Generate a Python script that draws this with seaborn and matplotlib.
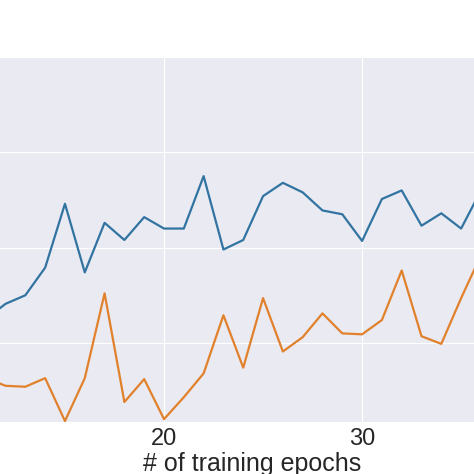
import matplotlib
matplotlib.use("Agg")
import matplotlib.pyplot as plt
import pandas as pd
import seaborn as sns

# values (only epochs 11-36 are visible)
epochs = list(range(11, 37))
series_a = [0.725, 0.741, 0.750, 0.779, 0.846, 0.774, 0.826, 0.808, 0.832, 0.820,
            0.820, 0.875, 0.798, 0.808, 0.854, 0.868, 0.858, 0.839, 0.835, 0.807,
            0.851, 0.860, 0.823, 0.836, 0.820, 0.860]
series_b = [0.663, 0.655, 0.654, 0.663, 0.618, 0.663, 0.752, 0.638, 0.662, 0.620,
            0.643, 0.668, 0.729, 0.674, 0.747, 0.691, 0.706, 0.731, 0.710, 0.709,
            0.724, 0.776, 0.707, 0.699, 0.747, 0.792]
x_ticks = [20, 30]
y_ticks = [0.7, 0.8, 0.9, 1.0]

df = pd.DataFrame({"epoch": epochs * 2,
                   "value": series_a + series_b,
                   "series": ["a"] * len(epochs) + ["b"] * len(epochs)})

sns.set_style("darkgrid")
plt.rcParams['font.family'] = ['Liberation Sans', 'DejaVu Sans']

fig = plt.figure(figsize=(4.74, 4.74), dpi=100)
# the reference is a crop of a wider chart: axes run past both edges
ax = fig.add_axes([0.0, 0.1097, 1.0, 0.770])

sns.lineplot(data=df, x="epoch", y="value", hue="series",
             palette=["#3274A1", "#E1812C"], linewidth=1.6, legend=False, ax=ax)

ax.set_xlim(11.72, 35.65)
ax.set_ylim(0.617, 1.0)
ax.set_xticks(x_ticks)
ax.set_xticklabels([str(t) for t in x_ticks], fontsize=17)
ax.set_yticks(y_ticks)
ax.set_yticklabels([])
ax.set_ylabel("")
ax.tick_params(axis="x", pad=1)
ax.set_xlabel("# of training epochs", fontsize=18)
ax.xaxis.set_label_coords(0.532, -0.083)
for s in ax.spines.values():
    s.set_visible(False)

fig.savefig("out.png", dpi=100)
